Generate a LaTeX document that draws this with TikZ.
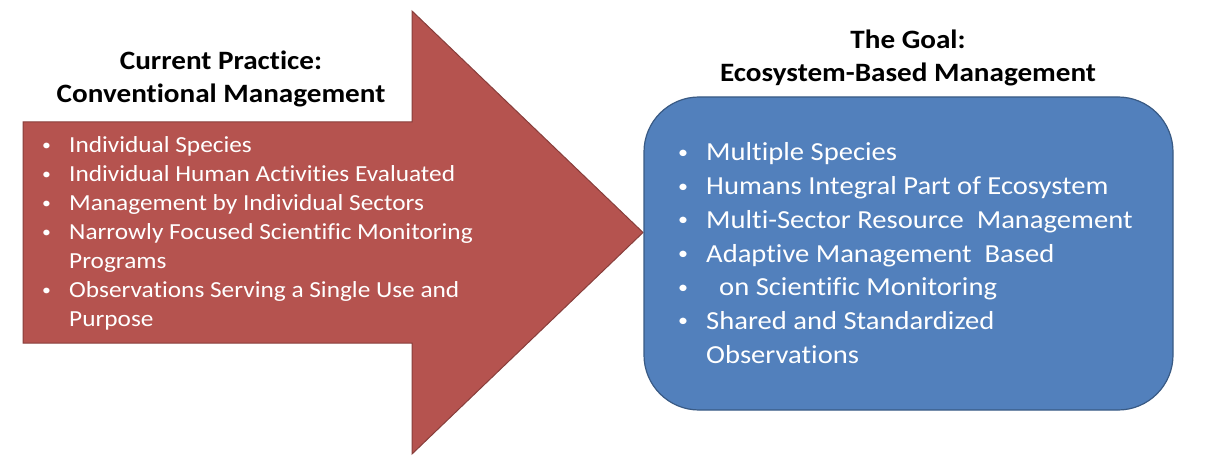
\documentclass[tikz,border=0pt]{standalone}
\usepackage{fontspec}
\setmainfont{Carlito}[FakeStretch=1.1, Ligatures=CommonOff]
\usetikzlibrary{positioning}
\usepackage{xcolor}

\definecolor{arrowred}{HTML}{B5534F}
\definecolor{goalblue}{HTML}{5280BC}
\newcommand{\listdot}{\raisebox{0.1em}{\scalebox{0.7}{\textbullet}}}

\begin{document}
\begin{tikzpicture}[
    x=1pt, y=-1pt,
    heading/.style={align=center, text=black, font=\bfseries\fontsize{26.5}{33}\selectfont},
    list red/.style={anchor=base west, inner sep=0pt, text=white, font=\fontsize{23}{29}\selectfont},
    list blue/.style={anchor=base west, inner sep=0pt, text=white, font=\fontsize{26}{33.7}\selectfont},
    goal box/.style={rounded corners=55pt, fill=goalblue, draw=goalblue!70!black, line width=1.2pt,
                     minimum width=529pt, minimum height=313pt}
]
    \useasboundingbox (0,0) rectangle (1222,462);

    % big red arrow
    \filldraw[fill=arrowred, draw=arrowred!75!black, line width=1pt]
        (23,122) -- (412,122) -- (412,11) -- (643,232.5) -- (412,454) -- (412,343) -- (23,343) -- cycle;

    % rounded goal box
    \node[goal box] (goal) at (908.5,253.5) {};

    \node[heading] (current) at (221,79) {Current Practice:\\Conventional Management};
    \node[heading] (target) at (908,58) {The Goal:\\Ecosystem-Based Management};

    \node[list red] (oldlist) at (42,153) {%
        \begin{tabular}[t]{@{}p{27pt}@{}l@{}}
        \listdot & Individual Species\\
        \listdot & Individual Human Activities Evaluated\\
        \listdot & Management by Individual Sectors\\
        \listdot & Narrowly Focused Scientific Monitoring\\
                 & Programs\\
        \listdot & Observations Serving a Single Use and\\
                 & Purpose
        \end{tabular}};

    \node[list blue] (newlist) at (678,161) {%
        \begin{tabular}[t]{@{}p{28pt}@{}l@{}}
        \listdot & Multiple Species\\
        \listdot & Humans Integral Part of Ecosystem\\
        \listdot & Multi-Sector Resource\enspace Management\\
        \listdot & Adaptive Management\enspace Based\\
        \listdot & \enspace on Scientific Monitoring\\
        \listdot & Shared and Standardized\\
                 & Observations
        \end{tabular}};
\end{tikzpicture}
\end{document}
